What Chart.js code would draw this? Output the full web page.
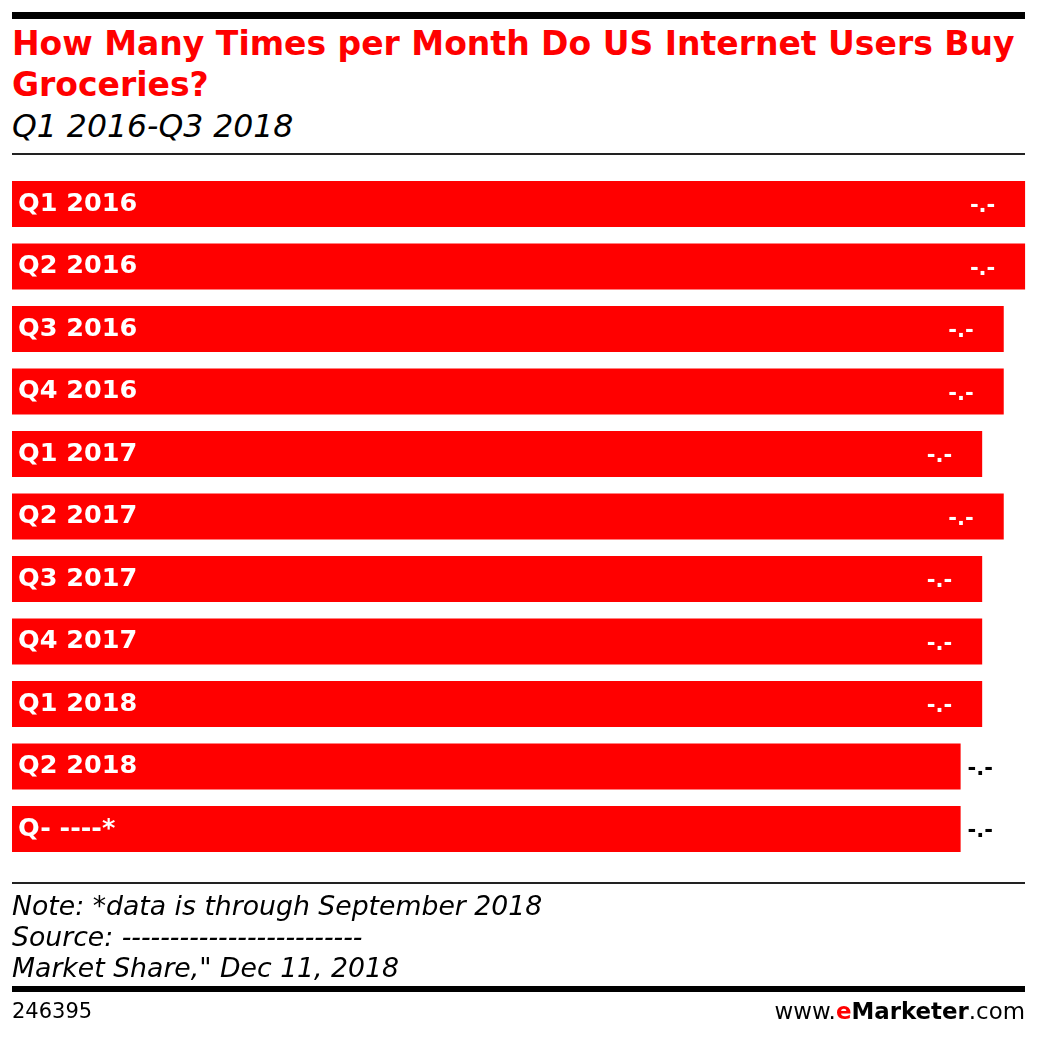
<!DOCTYPE html>
<html>
<head>
<meta charset="utf-8">
<script src="https://cdn.jsdelivr.net/npm/chart.js@4/dist/chart.umd.min.js"></script>
<style>
    html, body { margin: 0; padding: 0; background: #fff; }
    body { width: 1038px; height: 1038px; position: relative; overflow: hidden; font-family: "DejaVu Sans", sans-serif; }
    .abs { position: absolute; white-space: nowrap; }
    #ruleTop { left: 12px; top: 12px; width: 1013px; height: 7px; background: #000; }
    #title { left: 12px; top: 23px; font-size: 33px; line-height: 41px; font-weight: bold; color: #f00; }
    #subtitle { left: 12px; top: 110px; font-size: 31.5px; line-height: 32px; font-style: italic; color: #000; }
    #ruleSub { left: 12px; top: 153px; width: 1013px; height: 2px; background: #222; }
    #ruleNote { left: 12px; top: 882px; width: 1013px; height: 2px; background: #222; }
    #notes { left: 12px; top: 890px; font-size: 26.7px; line-height: 31px; font-style: italic; color: #000; }
    #ruleBottom { left: 12px; top: 986px; width: 1013px; height: 6px; background: #000; }
    #chartId { left: 12px; top: 1001px; font-size: 21px; line-height: 21px; color: #000; }
    #brand { right: 13px; top: 1000px; font-size: 22.9px; line-height: 22.9px; color: #000; }
    #brand b { font-weight: bold; }
    #brand .e { color: #f00; }
    #chartBox { position: absolute; left: 0; top: 0; width: 1038px; height: 1038px; }
</style>
</head>
<body>
<div class="abs" id="ruleTop"></div>
<div class="abs" id="title">How Many Times per Month Do US Internet Users Buy<br>Groceries?</div>
<div class="abs" id="subtitle">Q1 2016-Q3 2018</div>
<div class="abs" id="ruleSub"></div>
<div id="chartBox"><canvas id="groceryChart" width="1038" height="1038"></canvas></div>
<div class="abs" id="ruleNote"></div>
<div class="abs" id="notes">Note: *data is through September 2018<br>Source: -------------------------<br>Market Share," Dec 11, 2018</div>
<div class="abs" id="ruleBottom"></div>
<div class="abs" id="chartId">246395</div>
<div class="abs" id="brand">www.<b class="e">e</b><b>Marketer</b>.com</div>

<script>
const quarters = ["Q1 2016", "Q2 2016", "Q3 2016", "Q4 2016", "Q1 2017", "Q2 2017",
    "Q3 2017", "Q4 2017", "Q1 2018", "Q2 2018", "Q- ----*"];
const timesPerMonth = [4.7, 4.7, 4.6, 4.6, 4.5, 4.6, 4.5, 4.5, 4.5, 4.4, 4.4];
const valueLabels = ["-.-", "-.-", "-.-", "-.-", "-.-", "-.-", "-.-", "-.-", "-.-", "-.-", "-.-"];
// last two labels sit outside their bars
const labelOutside = [false, false, false, false, false, false, false, false, false, true, true];

const valueLabelPlugin = {
    id: 'valueLabels',
    afterDatasetsDraw(chart) {
        const ctx = chart.ctx;
        const bars = chart.getDatasetMeta(0).data;
        ctx.save();
        ctx.font = 'bold 21px "DejaVu Sans"';
        ctx.textBaseline = 'middle';
        bars.forEach((bar, i) => {
            if (labelOutside[i]) {
                ctx.fillStyle = '#000';
                ctx.textAlign = 'left';
                ctx.fillText(valueLabels[i], bar.x + 7, bar.y + 3);
            } else {
                ctx.fillStyle = '#fff';
                ctx.textAlign = 'right';
                ctx.fillText(valueLabels[i], bar.x - 30, bar.y + 3);
            }
        });
        ctx.restore();
    }
};

const chart = new Chart(document.getElementById("groceryChart").getContext("2d"), {
    type: 'bar',
    data: {
        labels: quarters,
        datasets: [
            {
                data: timesPerMonth,
                backgroundColor: "#ff0000",
                borderWidth: 0,
                categoryPercentage: 1,
                barPercentage: 0.736
            }
        ]
    },
    options: {
        indexAxis: 'y',
        responsive: false,
        animation: false,
        devicePixelRatio: 1,
        layout: { padding: { top: 172.75, bottom: 177.75, left: 12, right: 12.7 } },
        plugins: {
            legend: { display: false },
            tooltip: { enabled: false }
        },
        scales: {
            x: { display: false, min: 0, max: 4.7 },
            y: {
                position: 'left',
                grid: { display: false },
                border: { display: false },
                afterFit: (scale) => { scale.width = 0; },
                ticks: {
                    mirror: true,
                    z: 1,
                    padding: 6,
                    autoSkip: false,
                    color: '#fff',
                    font: { family: 'DejaVu Sans', weight: 'bold', size: 25.5 }
                }
            }
        }
    },
    plugins: [valueLabelPlugin]
});
</script>
</body>
</html>
